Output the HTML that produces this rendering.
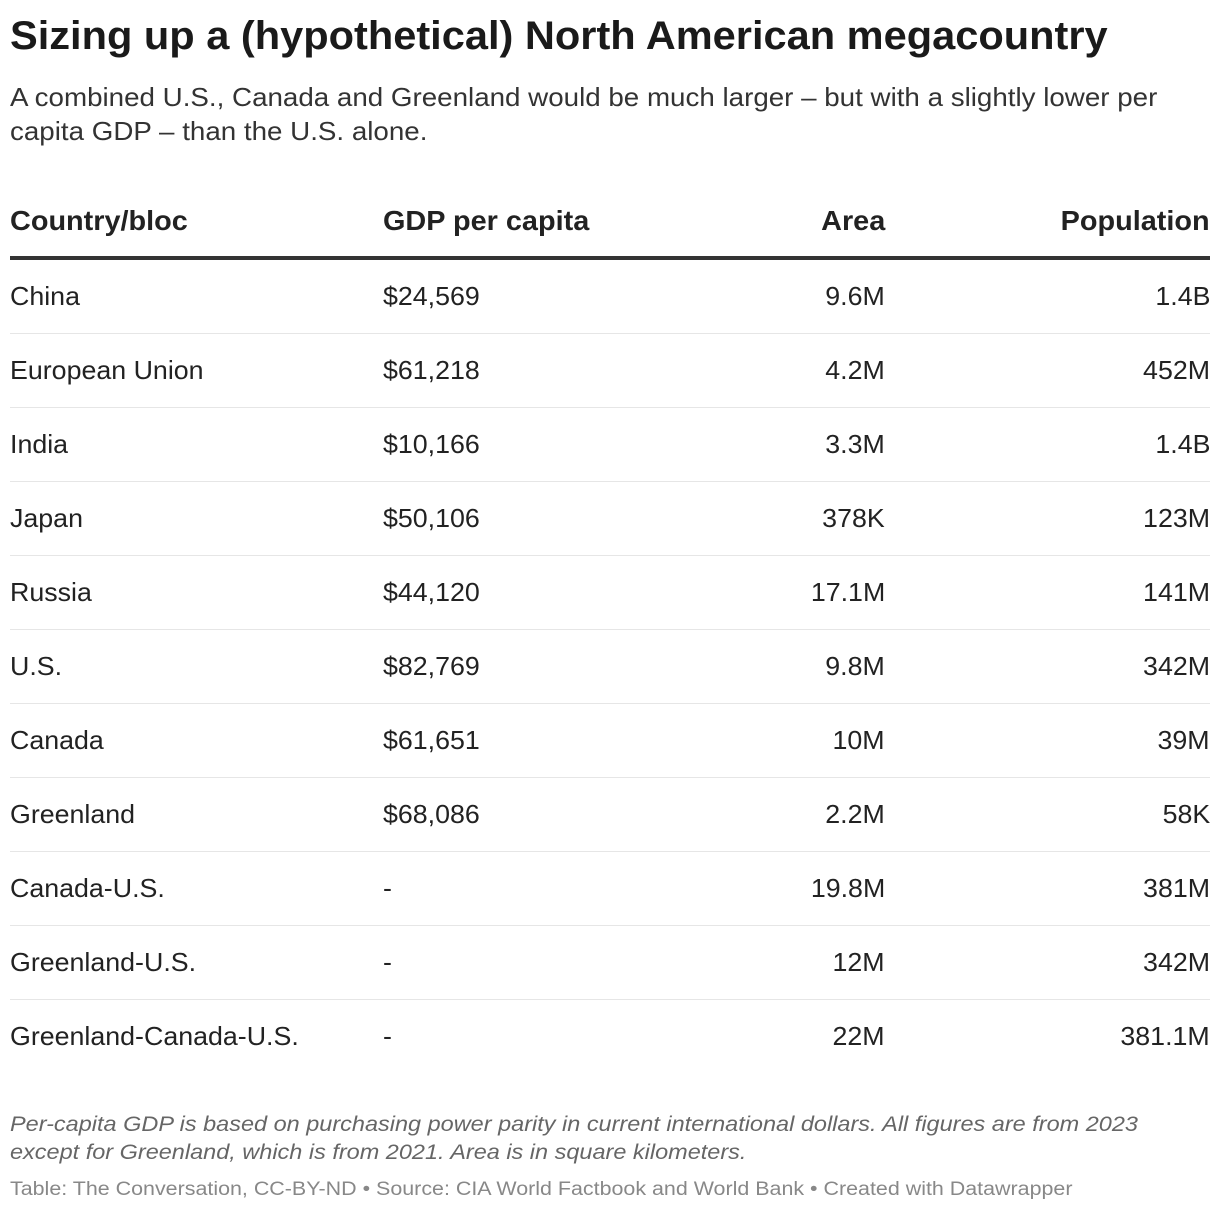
<!DOCTYPE html>
<html><head><style>
body{margin:0;width:1220px;height:1214px;background:#fff;font-family:"Liberation Sans",sans-serif;color:#222;position:relative;overflow:hidden}
.t{position:absolute;white-space:nowrap;transform-origin:left center;transform:scaleX(1.03)}
.r{transform-origin:right center}
.line{position:absolute;left:10px;width:1200px;height:1px;background:#e6e6e6}
</style></head><body>
<div class="t" style="left:10px;top:12px;font-size:40px;font-weight:bold;color:#1a1a1a;line-height:48px;transform:scaleX(1.039)">Sizing up a (hypothetical) North American megacountry</div>
<div class="t" style="left:10px;top:80px;font-size:26px;line-height:34px;color:#333;transform:scaleX(1.067)">A combined U.S., Canada and Greenland would be much larger – but with a slightly lower per<br>capita GDP – than the U.S. alone.</div>

<div class="t" style="left:10px;top:204px;font-size:28px;font-weight:bold;line-height:34px">Country/bloc</div>
<div class="t" style="left:383px;top:204px;font-size:28px;font-weight:bold;line-height:34px">GDP per capita</div>
<div class="t r" style="right:335px;top:204px;font-size:28px;font-weight:bold;line-height:34px">Area</div>
<div class="t r" style="right:10px;top:204px;font-size:28px;font-weight:bold;line-height:34px">Population</div>
<div style="position:absolute;left:10px;width:1200px;top:256px;height:4px;background:#333"></div>

<div id="rows"></div>
<script>
var d=[["China","$24,569","9.6M","1.4B"],["European Union","$61,218","4.2M","452M"],["India","$10,166","3.3M","1.4B"],["Japan","$50,106","378K","123M"],["Russia","$44,120","17.1M","141M"],["U.S.","$82,769","9.8M","342M"],["Canada","$61,651","10M","39M"],["Greenland","$68,086","2.2M","58K"],["Canada-U.S.","-","19.8M","381M"],["Greenland-U.S.","-","12M","342M"],["Greenland-Canada-U.S.","-","22M","381.1M"]];
var h="";
d.forEach(function(r,i){var c=296+74*i;var top=c-16;
h+='<div class="t" style="left:10px;top:'+top+'px;font-size:26px;line-height:32px">'+r[0]+'</div>';
h+='<div class="t" style="left:383px;top:'+top+'px;font-size:26px;line-height:32px">'+r[1]+'</div>';
h+='<div class="t r" style="right:335px;top:'+top+'px;font-size:26px;line-height:32px">'+r[2]+'</div>';
h+='<div class="t r" style="right:10px;top:'+top+'px;font-size:26px;line-height:32px">'+r[3]+'</div>';
if(i<d.length-1)h+='<div class="line" style="top:'+(c+37)+'px"></div>';});
document.getElementById("rows").innerHTML=h;
</script>

<div class="t" style="left:10px;top:1111px;font-size:21px;line-height:28px;font-style:italic;color:#666;transform:scaleX(1.118)">Per-capita GDP is based on purchasing power parity in current international dollars. All figures are from 2023<br>except for Greenland, which is from 2021. Area is in square kilometers.</div>
<div class="t" style="left:10px;top:1178px;font-size:19px;line-height:24px;color:#888;transform:scaleX(1.128)">Table: The Conversation, CC-BY-ND • Source: CIA World Factbook and World Bank • Created with Datawrapper</div>
</body></html>
